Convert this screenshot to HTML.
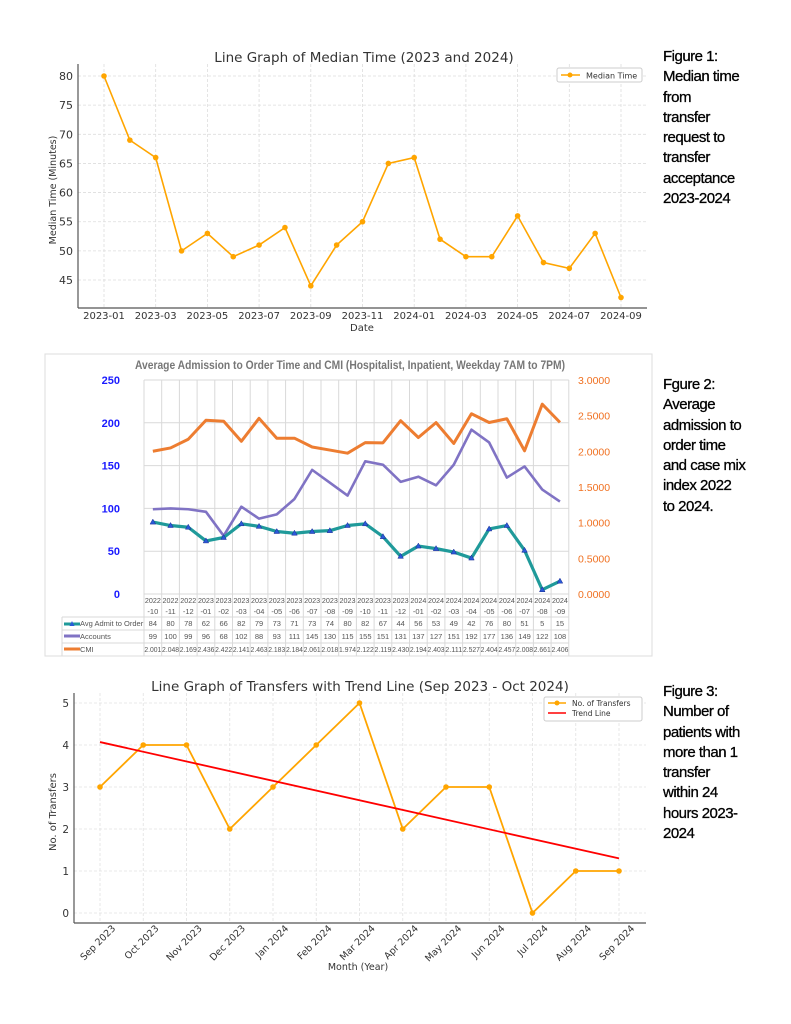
<!DOCTYPE html>
<html><head><meta charset="utf-8"><style>
body{margin:0;background:#fff;width:791px;height:1024px;overflow:hidden;font-family:"DejaVu Sans",sans-serif}
.fig{position:absolute;left:663px;font-family:"Liberation Sans",sans-serif;font-size:15px;line-height:20.3px;color:#000;letter-spacing:-0.5px;-webkit-text-stroke:0.3px #000}
svg{position:absolute;left:0;top:0}
</style></head><body>
<div class="fig" style="top:47px">Figure 1:<br>Median time<br>from<br>transfer<br>request to<br>transfer<br>acceptance<br>2023-2024</div>
<div class="fig" style="top:375px">Fgure 2:<br>Average<br>admission to<br>order time<br>and case mix<br>index 2022<br>to 2024.</div>
<div class="fig" style="top:682px">Figure 3:<br>Number of<br>patients with<br>more than 1<br>transfer<br>within 24<br>hours 2023-<br>2024</div>
<svg width="791" height="1024" xmlns="http://www.w3.org/2000/svg" id="s"></svg>
<script>
const s=document.getElementById('s');let h='';
// ===== Chart 1 =====
const m1=[80,69,66,50,53,49,51,54,44,51,55,65,66,52,49,49,56,48,47,53,42];
const X1=i=>104+i*25.85, Y1=v=>76+(80-v)*5.829;
for(let v=45;v<=80;v+=5){h+=`<line x1="78" x2="647" y1="${Y1(v)}" y2="${Y1(v)}" stroke="#ddd" stroke-dasharray="3,2" stroke-width="0.8"/><text x="73" y="${Y1(v)+4}" font-size="11" fill="#333" text-anchor="end">${v}</text>`;}
const lab1=['2023-01','2023-03','2023-05','2023-07','2023-09','2023-11','2024-01','2024-03','2024-05','2024-07','2024-09'];
lab1.forEach((l,k)=>{const x=X1(k*2);h+=`<line x1="${x}" x2="${x}" y1="64" y2="308" stroke="#ddd" stroke-dasharray="3,2" stroke-width="0.8"/><text x="${x}" y="319" font-size="10" fill="#333" text-anchor="middle">${l}</text>`;});
h+=`<line x1="78" x2="78" y1="64" y2="308" stroke="#555" stroke-width="1.2"/><line x1="78" x2="647" y1="308" y2="308" stroke="#555" stroke-width="1.2"/>`;
h+=`<polyline fill="none" stroke="#ffa500" stroke-width="1.6" points="${m1.map((v,i)=>X1(i)+','+Y1(v)).join(' ')}"/>`;
m1.forEach((v,i)=>h+=`<circle cx="${X1(i)}" cy="${Y1(v)}" r="2.8" fill="#ffa500"/>`);
h+=`<text x="364" y="62" font-size="13.5" fill="#333" text-anchor="middle">Line Graph of Median Time (2023 and 2024)</text>`;
h+=`<text x="362" y="331" font-size="10" fill="#333" text-anchor="middle">Date</text>`;
h+=`<text transform="translate(56,190) rotate(-90)" font-size="9.5" fill="#333" text-anchor="middle">Median Time (Minutes)</text>`;
h+=`<rect x="557" y="68" width="85" height="14" fill="#fff" stroke="#ccc" rx="2"/><line x1="561" x2="580" y1="75" y2="75" stroke="#ffa500" stroke-width="1.5"/><circle cx="570" cy="75" r="2.5" fill="#ffa500"/><text x="586" y="78.5" font-size="8" fill="#333">Median Time</text>`;
// ===== Chart 2 =====
h+=`<rect x="45" y="354" width="607" height="302" fill="#fff" stroke="#ddd"/>`;
h+=`<text x="350" y="369" font-size="11.5" font-weight="bold" fill="#777" text-anchor="middle" font-family="Liberation Sans" textLength="430" lengthAdjust="spacingAndGlyphs">Average Admission to Order Time and CMI (Hospitalist, Inpatient, Weekday 7AM to 7PM)</text>`;
const L=144,W=17.7,Y2=v=>594-v*0.856,Yc=v=>594-v*71.33;
for(let v=0;v<=250;v+=50){h+=`<line x1="${L}" x2="${L+24*W}" y1="${Y2(v)}" y2="${Y2(v)}" stroke="#d9d9d9"/><text x="120" y="${Y2(v)+4}" font-size="11" font-weight="bold" fill="#1a1aff" text-anchor="end" font-family="Liberation Sans">${v}</text>`;}
for(let c=0;c<=3;c+=0.5){h+=`<text x="578" y="${Yc(c)+4}" font-size="10.5" fill="#f07020" font-family="Liberation Sans">${c.toFixed(4)}</text>`;}
for(let i=0;i<=24;i++){h+=`<line x1="${L+i*W}" x2="${L+i*W}" y1="380" y2="656" stroke="#d9d9d9"/>`;}
h+=`<line x1="62" x2="${L+24*W}" y1="617" y2="617" stroke="#d9d9d9"/><line x1="62" x2="${L+24*W}" y1="630" y2="630" stroke="#d9d9d9"/><line x1="62" x2="${L+24*W}" y1="643" y2="643" stroke="#d9d9d9"/><line x1="62" x2="62" y1="617" y2="656" stroke="#d9d9d9"/>`;
const av=[84,80,78,62,66,82,79,73,71,73,74,80,82,67,44,56,53,49,42,76,80,51,5,15];
const ac=[99,100,99,96,68,102,88,93,111,145,130,115,155,151,131,137,127,151,192,177,136,149,122,108];
const cm=[2.001,2.048,2.169,2.436,2.422,2.141,2.463,2.183,2.184,2.061,2.018,1.974,2.122,2.119,2.430,2.194,2.403,2.111,2.527,2.404,2.457,2.008,2.661,2.406];
const dt=['2022-10','2022-11','2022-12','2023-01','2023-02','2023-03','2023-04','2023-05','2023-06','2023-07','2023-08','2023-09','2023-10','2023-11','2023-12','2024-01','2024-02','2024-03','2024-04','2024-05','2024-06','2024-07','2024-08','2024-09'];
const cx=i=>L+W*(i+0.5);
h+=`<polyline fill="none" stroke="#ed7d31" stroke-width="3" stroke-linejoin="round" points="${cm.map((v,i)=>cx(i)+','+Yc(v)).join(' ')}"/>`;
h+=`<polyline fill="none" stroke="#8073c4" stroke-width="2.6" stroke-linejoin="round" points="${ac.map((v,i)=>cx(i)+','+Y2(v)).join(' ')}"/>`;
h+=`<polyline fill="none" stroke="#1f9a9a" stroke-width="3.2" stroke-linejoin="round" points="${av.map((v,i)=>cx(i)+','+Y2(v)).join(' ')}"/>`;
av.forEach((v,i)=>h+=`<polygon points="${cx(i)},${Y2(v)-3} ${cx(i)-2.8},${Y2(v)+2} ${cx(i)+2.8},${Y2(v)+2}" fill="#2a5ad8" stroke="#1a2a90" stroke-width="0.5"/>`);
dt.forEach((d,i)=>{const [y,m]=d.split('-');h+=`<text x="${cx(i)}" y="603" font-size="7.5" fill="#555" text-anchor="middle" font-family="Liberation Sans" textLength="16" lengthAdjust="spacingAndGlyphs">${y}</text><text x="${cx(i)}" y="614" font-size="7.5" fill="#555" text-anchor="middle" font-family="Liberation Sans">-${m}</text>`;
h+=`<text x="${cx(i)}" y="626" font-size="7.5" fill="#555" text-anchor="middle" font-family="Liberation Sans">${av[i]}</text><text x="${cx(i)}" y="639" font-size="7.5" fill="#555" text-anchor="middle" font-family="Liberation Sans">${ac[i]}</text><text x="${cx(i)}" y="652" font-size="7.5" fill="#555" text-anchor="middle" font-family="Liberation Sans" textLength="17" lengthAdjust="spacingAndGlyphs">${cm[i].toFixed(3)}</text>`;});
h+=`<line x1="64" x2="80" y1="624" y2="624" stroke="#1f9a9a" stroke-width="3"/><polygon points="72,621 69.5,626 74.5,626" fill="#2a5ad8"/><text x="80" y="626" font-size="7.5" fill="#555" font-family="Liberation Sans">Avg Admit to Order</text>`;
h+=`<line x1="64" x2="80" y1="636" y2="636" stroke="#8073c4" stroke-width="3"/><text x="80" y="639" font-size="7.5" fill="#555" font-family="Liberation Sans">Accounts</text>`;
h+=`<line x1="64" x2="80" y1="649" y2="649" stroke="#ed7d31" stroke-width="3"/><text x="80" y="652" font-size="7.5" fill="#555" font-family="Liberation Sans">CMI</text>`;
// ===== Chart 3 =====
const t=[3,4,4,2,3,4,5,2,3,3,0,1,1];
const X3=i=>100+i*43.25, Y3=v=>913-v*42;
for(let v=0;v<=5;v++){h+=`<line x1="74" x2="646" y1="${Y3(v)}" y2="${Y3(v)}" stroke="#e2e2e2" stroke-dasharray="3,2" stroke-width="0.8"/><text x="69" y="${Y3(v)+4}" font-size="10.5" fill="#333" text-anchor="end">${v}</text>`;}
const mo=['Sep 2023','Oct 2023','Nov 2023','Dec 2023','Jan 2024','Feb 2024','Mar 2024','Apr 2024','May 2024','Jun 2024','Jul 2024','Aug 2024','Sep 2024'];
mo.forEach((l,i)=>{const x=X3(i);h+=`<line x1="${x}" x2="${x}" y1="693" y2="923" stroke="#e2e2e2" stroke-dasharray="3,2" stroke-width="0.8"/><text transform="translate(${x+16},${929}) rotate(-45)" font-size="9.5" fill="#333" text-anchor="end">${l}</text>`;});
h+=`<line x1="74" x2="74" y1="693" y2="923" stroke="#555" stroke-width="1.2"/><line x1="74" x2="646" y1="923" y2="923" stroke="#555" stroke-width="1.2"/>`;
h+=`<polyline fill="none" stroke="#ffa500" stroke-width="1.8" points="${t.map((v,i)=>X3(i)+','+Y3(v)).join(' ')}"/>`;
t.forEach((v,i)=>h+=`<circle cx="${X3(i)}" cy="${Y3(v)}" r="2.8" fill="#ffa500"/>`);
h+=`<line x1="${X3(0)}" y1="${Y3(4.07)}" x2="${X3(12)}" y2="${Y3(1.3)}" stroke="#ff0000" stroke-width="1.8"/>`;
h+=`<text x="360" y="691" font-size="13.5" fill="#333" text-anchor="middle">Line Graph of Transfers with Trend Line (Sep 2023 - Oct 2024)</text>`;
h+=`<text x="358" y="970" font-size="9.5" fill="#333" text-anchor="middle">Month (Year)</text>`;
h+=`<text transform="translate(56,812) rotate(-90)" font-size="10" fill="#333" text-anchor="middle">No. of Transfers</text>`;
h+=`<rect x="544" y="697" width="98" height="24" fill="#fff" stroke="#ccc" rx="2"/><line x1="548" x2="566" y1="703" y2="703" stroke="#ffa500" stroke-width="1.5"/><circle cx="557" cy="703" r="2.5" fill="#ffa500"/><text x="572" y="706" font-size="7.5" fill="#333">No. of Transfers</text><line x1="548" x2="566" y1="713" y2="713" stroke="#ff0000" stroke-width="1.5"/><text x="572" y="716" font-size="7.5" fill="#333">Trend Line</text>`;
s.innerHTML=h;
</script>
</body></html>
